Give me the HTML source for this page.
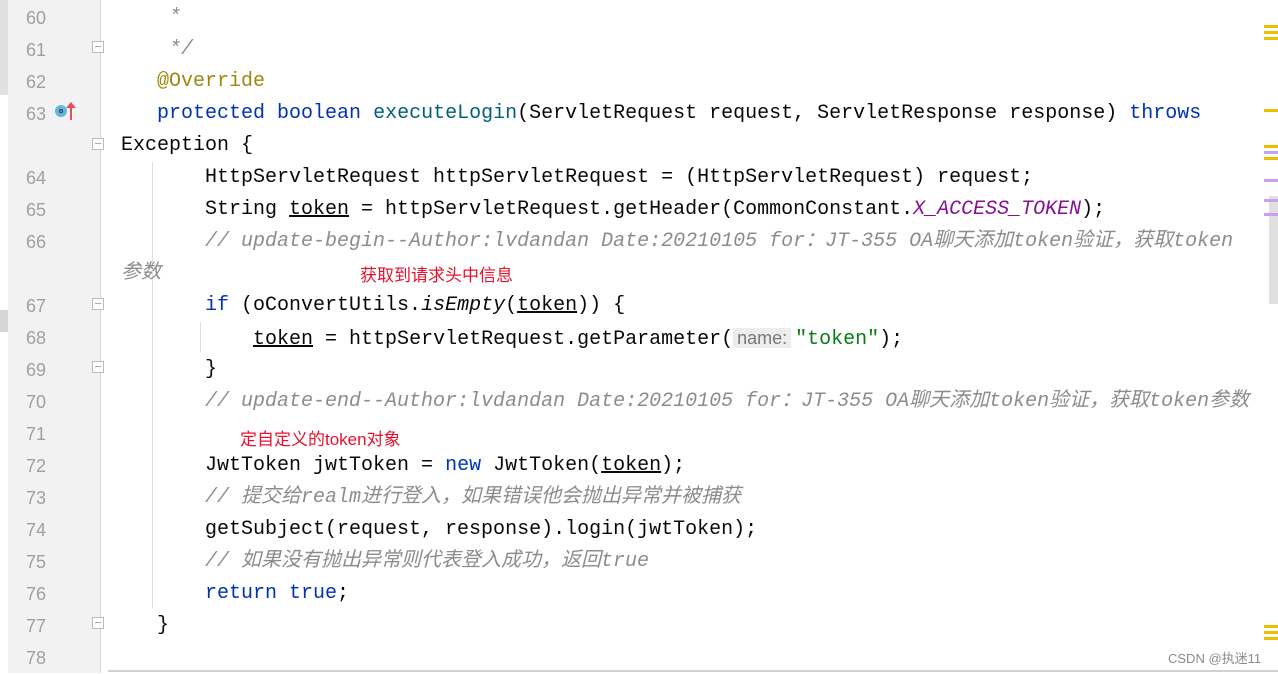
<!DOCTYPE html>
<html><head><meta charset="utf-8"><style>
body{margin:0;width:1278px;height:673px;background:#fff;overflow:hidden;position:relative;font-family:"Liberation Mono","Noto Sans CJK SC",monospace;}
.g{position:absolute;left:8px;top:0;width:92px;height:673px;background:#f2f2f2;border-right:1px solid #d8d8d8;}
.ln{position:absolute;left:26px;width:40px;color:#a0a0a0;font-size:18px;font-family:"Liberation Sans",sans-serif;line-height:32px;}
.r{position:absolute;left:121px;white-space:pre;font-size:20px;line-height:32px;color:#080808;height:32px;}
.k{color:#0033b3}.a{color:#9e880d}.m{color:#00627a}.c{color:#8c8c8c;font-style:italic}.s{color:#067d17}.p{color:#871094;font-style:italic}.u{text-decoration:underline}
.red{position:absolute;color:#e8112d;font-family:"Liberation Sans","Noto Sans CJK SC",sans-serif;font-size:17px;}
.f{position:absolute;left:92px;width:12px;height:12px;border:1px solid #bbb;background:#fff;box-sizing:border-box}
.f:after{content:"";position:absolute;left:2px;top:4px;width:6px;height:1px;background:#aaa}
.mk{position:absolute;left:1264px;width:14px;height:3px;}
</style></head><body>
<div style="position:absolute;left:0;top:0;width:8px;height:95px;background:#e0e0e0"></div>
<div style="position:absolute;left:0;top:310px;width:8px;height:22px;background:#d6d6d6"></div>
<div class="g"></div>
<div class="ln" style="top:2px">60</div>
<div class="ln" style="top:34px">61</div>
<div class="ln" style="top:66px">62</div>
<div class="ln" style="top:98px">63</div>
<div class="ln" style="top:162px">64</div>
<div class="ln" style="top:194px">65</div>
<div class="ln" style="top:226px">66</div>
<div class="ln" style="top:290px">67</div>
<div class="ln" style="top:322px">68</div>
<div class="ln" style="top:354px">69</div>
<div class="ln" style="top:386px">70</div>
<div class="ln" style="top:418px">71</div>
<div class="ln" style="top:450px">72</div>
<div class="ln" style="top:482px">73</div>
<div class="ln" style="top:514px">74</div>
<div class="ln" style="top:546px">75</div>
<div class="ln" style="top:578px">76</div>
<div class="ln" style="top:610px">77</div>
<div class="ln" style="top:642px">78</div>
<div style="position:absolute;left:55px;top:105px;width:12px;height:12px;border-radius:50%;background:#5fb8dc"></div>
<div style="position:absolute;left:59px;top:109px;width:4px;height:4px;border-radius:50%;border:1px solid #333;box-sizing:border-box"></div>
<div style="position:absolute;left:70px;top:106px;width:2px;height:14px;background:#e05060"></div>
<div style="position:absolute;left:66px;top:102px;width:0;height:0;border-left:5px solid transparent;border-right:5px solid transparent;border-bottom:6px solid #e05060"></div>
<div class="f" style="top:41px"></div><div class="f" style="top:138px"></div><div class="f" style="top:298px"></div><div class="f" style="top:361px"></div><div class="f" style="top:617px"></div>
<div style="position:absolute;left:152px;top:162px;width:1px;height:446px;background:#e0e0e0"></div>
<div style="position:absolute;left:200px;top:322px;width:1px;height:30px;background:#e0e0e0"></div>
<div class="r" style="top:2px"><span class="c">    *</span></div>
<div class="r" style="top:34px"><span class="c">    */</span></div>
<div class="r" style="top:66px">   <span class="a">@Override</span></div>
<div class="r" style="top:98px">   <span class="k">protected boolean</span> <span class="m">executeLogin</span>(ServletRequest request, ServletResponse response) <span class="k">throws</span></div>
<div class="r" style="top:130px">Exception {</div>
<div class="r" style="top:162px">       HttpServletRequest httpServletRequest = (HttpServletRequest) request;</div>
<div class="r" style="top:194px">       String <span class="u">token</span> = httpServletRequest.getHeader(CommonConstant.<span class="p">X_ACCESS_TOKEN</span>);</div>
<div class="r" style="top:226px"><span class="c">       // update-begin--Author:lvdandan Date:20210105 for：JT-355 OA聊天添加token验证，获取token</span></div>
<div class="r" style="top:258px"><span class="c">参数</span></div>
<div class="r" style="top:290px">       <span class="k">if</span> (oConvertUtils.<i>isEmpty</i>(<span class="u">token</span>)) {</div>
<div class="r" style="top:322px">           <span class="u">token</span> = httpServletRequest.getParameter(<span style="font-family:'Liberation Sans',sans-serif;font-size:18px;color:#777;background:#ededed;padding:0 4px;margin-right:4px">name:</span><span class="s">"token"</span>);</div>
<div class="r" style="top:354px">       }</div>
<div class="r" style="top:386px"><span class="c">       // update-end--Author:lvdandan Date:20210105 for：JT-355 OA聊天添加token验证，获取token参数</span></div>
<div class="r" style="top:450px">       JwtToken jwtToken = <span class="k">new</span> JwtToken(<span class="u">token</span>);</div>
<div class="r" style="top:482px"><span class="c">       // 提交给realm进行登入，如果错误他会抛出异常并被捕获</span></div>
<div class="r" style="top:514px">       getSubject(request, response).login(jwtToken);</div>
<div class="r" style="top:546px"><span class="c">       // 如果没有抛出异常则代表登入成功，返回true</span></div>
<div class="r" style="top:578px">       <span class="k">return true</span>;</div>
<div class="r" style="top:610px">   }</div>
<div class="red" style="left:360px;top:261px">获取到请求头中信息</div>
<div class="red" style="left:240px;top:425px">定自定义的token对象</div>
<div style="position:absolute;left:1269px;top:196px;width:9px;height:108px;background:#e0e0e0"></div>
<div class="mk" style="top:25px;background:#e6c200"></div><div class="mk" style="top:31px;background:#e6c200"></div><div class="mk" style="top:37px;background:#e6c200"></div>
<div class="mk" style="top:109px;background:#e6c200"></div>
<div class="mk" style="top:145px;background:#e6c200"></div><div class="mk" style="top:151px;background:#c9a0ef"></div><div class="mk" style="top:157px;background:#e6c200"></div>
<div class="mk" style="top:179px;background:#c9a0ef"></div><div class="mk" style="top:199px;background:#c9a0ef"></div><div class="mk" style="top:213px;background:#c9a0ef"></div>
<div class="mk" style="top:625px;background:#e6c200"></div><div class="mk" style="top:631px;background:#e6c200"></div><div class="mk" style="top:637px;background:#e6c200"></div>
<div style="position:absolute;left:1168px;top:648px;font-family:'Liberation Sans','Noto Sans CJK SC',sans-serif;font-size:13px;color:#8a8a8a">CSDN @执迷11</div>
<div style="position:absolute;left:108px;top:670px;width:1170px;height:2px;background:#d0d0d0"></div>
</body></html>
